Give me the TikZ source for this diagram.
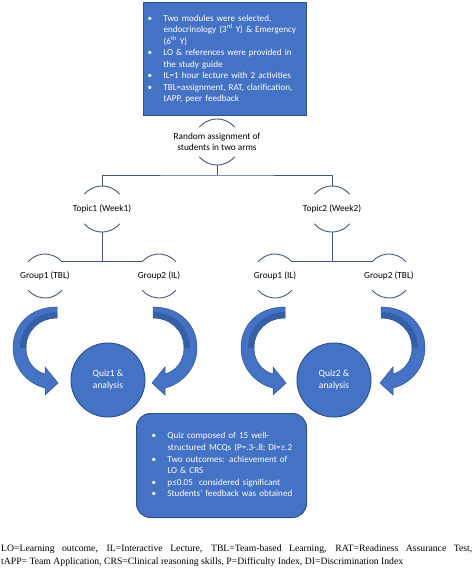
\documentclass[tikz,border=0pt]{standalone}
\usepackage{fontspec}
\setmainfont{Carlito}
\newfontfamily\capfont{Liberation Serif}
\usetikzlibrary{calc}
\definecolor{fillblue}{HTML}{4472C4}
\definecolor{edgeblue}{HTML}{2F528F}
\definecolor{linec}{HTML}{41587A}
\definecolor{darkblue}{HTML}{3560A8}
\tikzset{
  conn/.style={draw=linec, line width=0.9pt},
  lbl/.style={align=center, inner sep=0pt, font=\fontsize{9.3}{10.5}\selectfont},
  bluebox/.style={fill=fillblue, draw=edgeblue, line width=1pt, text=white, align=left},
  quizc/.style={circle, fill=fillblue, draw=edgeblue, line width=1pt, text=white, align=center, minimum size=74pt, inner sep=0pt, font=\fontsize{9.5}{12}\selectfont},
  arrowfill/.style={fill=fillblue, draw=edgeblue, line width=0.5pt}
}
\newcommand\arcpair[2]{%
  \draw[conn] ($(#1.center)+(40:#2)$) arc[start angle=40,end angle=140,radius=#2];
  \draw[conn] ($(#1.center)+(220:#2)$) arc[start angle=220,end angle=320,radius=#2];}
\newcommand\curvedarrow{%
  \filldraw[arrowfill] (-48,307) .. controls (-75,307) and (-92,325) .. (-92,348)
    .. controls (-92,368) and (-77,384) .. (-60,388) -- (-60,395) -- (-47,383) -- (-60,367) -- (-60,374)
    .. controls (-71,371) and (-79,361) .. (-79,348)
    .. controls (-79,330) and (-65,318) .. (-48,318) -- cycle;
  \fill[darkblue] (-48,318) .. controls (-65,318) and (-79,330) .. (-79,348) -- (-85,348)
    .. controls (-85,327) and (-68,312) .. (-48,312) -- cycle;}
\begin{document}
\begin{tikzpicture}[x=1pt,y=-1pt]
\useasboundingbox (0,0) rectangle (474,571);
% top box
\node[bluebox, anchor=north west, text width=155pt, inner xsep=4pt, minimum height=113pt,
      font=\fontsize{9.1}{11.4}\selectfont] (top) at (143,2) {\noindent\begin{tabular}{@{}p{16pt}@{}l@{}}
\textbullet & Two modules were selected,\\
 & endocrinology (3\textsuperscript{rd} Y) \& Emergency\\
 & (6\textsuperscript{th} Y)\\
\textbullet & LO \& references were provided in\\
 & the study guide\\
\textbullet & IL=1 hour lecture with 2 activities\\
\textbullet & TBL=assignment, RAT, clarification,\\
 & tAPP, peer feedback
\end{tabular}};
% tree labels
\node[lbl] (rnd) at (217,142) {Random assignment of\\students in two arms};
\node[lbl] (t1) at (102,209) {Topic1 (Week1)};
\node[lbl] (t2) at (332,209) {Topic2 (Week2)};
\node[lbl] (g11) at (45,276) {Group1 (TBL)};
\node[lbl] (g12) at (159,276) {Group2 (IL)};
\node[lbl] (g21) at (275,276) {Group1 (IL)};
\node[lbl] (g22) at (389,276) {Group2 (TBL)};
\arcpair{rnd}{23pt}
\arcpair{t1}{23pt}
\arcpair{t2}{23pt}
\arcpair{g11}{22pt}
\arcpair{g12}{22pt}
\arcpair{g21}{22pt}
\arcpair{g22}{22pt}
% connectors
\coordinate (j0) at (217,175);
\coordinate (j1) at (102,261);
\coordinate (j2) at (332,261);
\draw[conn] ($(rnd.center)+(0,23)$) -- (j0);
\draw[conn] ($(t1.center)+(0,-23)$) |- (j0) -| ($(t2.center)+(0,-23)$);
\draw[conn] ($(t1.center)+(0,23)$) -- (j1);
\draw[conn] ($(t2.center)+(0,23)$) -- (j2);
\draw[conn] ($(g11.center)+(16,-15)$) -- ($(g12.center)+(-16,-15)$);
\draw[conn] ($(g21.center)+(16,-15)$) -- ($(g22.center)+(-16,-15)$);
% curved arrows
\begin{scope}[shift={(105,0)}]\curvedarrow\end{scope}
\begin{scope}[shift={(105,0)},xscale=-1]\curvedarrow\end{scope}
\begin{scope}[shift={(333,0)}]\curvedarrow\end{scope}
\begin{scope}[shift={(333,0)},xscale=-1]\curvedarrow\end{scope}
% quiz circles
\node[quizc] (q1) at (108,380) {Quiz1 \&\\analysis};
\node[quizc] (q2) at (334,380) {Quiz2 \&\\analysis};
% bottom box
\node[bluebox, rounded corners=14pt, anchor=north west, text width=140pt, inner xsep=15pt, minimum height=104pt,
      font=\fontsize{9.1}{11.6}\selectfont] (bot) at (136,413) {\noindent\begin{tabular}{@{}p{16pt}@{}l@{}}
\textbullet & Quiz composed of 15 well-\\
 & structured MCQs (P=.3-.8; DI=≥.2\\
\textbullet & Two outcomes: achievement of\\
 & LO \& CRS\\
\textbullet & p≤0.05~ considered significant\\
\textbullet & Students’ feedback was obtained
\end{tabular}};
% caption
\node[anchor=north west, text width=471pt, align=justify, inner sep=0pt,
      font=\capfont\fontsize{9.7}{12.2}\selectfont] (cap) at (1,545) {LO=Learning outcome, IL=Interactive Lecture, TBL=Team-based Learning, RAT=Readiness Assurance Test,\linebreak tAPP= Team Application, CRS=Clinical reasoning skills, P=Difficulty Index, DI=Discrimination Index};
\end{tikzpicture}
\end{document}
